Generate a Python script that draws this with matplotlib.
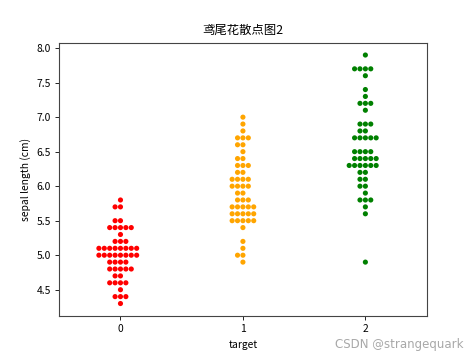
import matplotlib
matplotlib.use('Agg')
import matplotlib.pyplot as plt
import seaborn as sns
import pandas as pd

# iris sepal length (cm) per target
setosa = [5.1, 4.9, 4.7, 4.6, 5.0, 5.4, 4.6, 5.0, 4.4, 4.9, 5.4, 4.8, 4.8, 4.3, 5.8, 5.7, 5.4,
          5.1, 5.7, 5.1, 5.4, 5.1, 4.6, 5.1, 4.8, 5.0, 5.0, 5.2, 5.2, 4.7, 4.8, 5.4, 5.2, 5.5,
          4.9, 5.0, 5.5, 4.9, 4.4, 5.1, 5.0, 4.5, 4.4, 5.0, 5.1, 4.8, 5.1, 4.6, 5.3, 5.0]
versicolor = [7.0, 6.4, 6.9, 5.5, 6.5, 5.7, 6.3, 4.9, 6.6, 5.2, 5.0, 5.9, 6.0, 6.1, 5.6, 6.7, 5.6,
              5.8, 6.2, 5.6, 5.9, 6.1, 6.3, 6.1, 6.4, 6.6, 6.8, 6.7, 6.0, 5.7, 5.5, 5.5, 5.8, 6.0,
              5.4, 6.0, 6.7, 6.3, 5.6, 5.5, 5.5, 6.1, 5.8, 5.0, 5.6, 5.7, 5.7, 6.2, 5.1, 5.7]
virginica = [6.3, 5.8, 7.1, 6.3, 6.5, 7.6, 4.9, 7.3, 6.7, 7.2, 6.5, 6.4, 6.8, 5.7, 5.8, 6.4, 6.5,
             7.7, 7.7, 6.0, 6.9, 5.6, 7.7, 6.3, 6.7, 7.2, 6.2, 6.1, 6.4, 7.2, 7.4, 7.9, 6.4, 6.3,
             6.1, 7.7, 6.3, 6.4, 6.0, 6.9, 6.7, 6.9, 5.8, 6.8, 6.7, 6.7, 6.3, 6.5, 6.2, 5.9]
targets = [0, 1, 2]
colors = ['red', 'orange', 'green']

plt.rcParams['font.family'] = ['Noto Sans CJK SC', 'DejaVu Sans']
plt.rcParams['axes.unicode_minus'] = False

df = pd.DataFrame({
    'target': [0] * len(setosa) + [1] * len(versicolor) + [2] * len(virginica),
    'sepal length (cm)': setosa + versicolor + virginica,
})

fig, ax = plt.subplots(figsize=(4.74, 3.55), dpi=100)
fig.subplots_adjust(left=0.125, right=0.9, bottom=0.11, top=0.88)

sns.swarmplot(data=df, x='target', y='sepal length (cm)', hue='target',
              palette=colors, legend=False, size=3.7, ax=ax)

ax.set_title('鸢尾花散点图2', fontsize=8.9)
ax.set_xlabel('target', fontsize=7.4)
ax.set_ylabel('sepal length (cm)', fontsize=7.4)
ax.tick_params(labelsize=7.4, width=0.6, length=2.6)
for s in ax.spines.values():
    s.set_linewidth(0.8)
    s.set_color('#444444')

fig.text(0.978, 0.012, 'CSDN @strangequark', ha='right', va='bottom',
         fontsize=8.5, color='#a8a8a8', family=['DejaVu Sans'])

fig.savefig('out.png', dpi=100)
